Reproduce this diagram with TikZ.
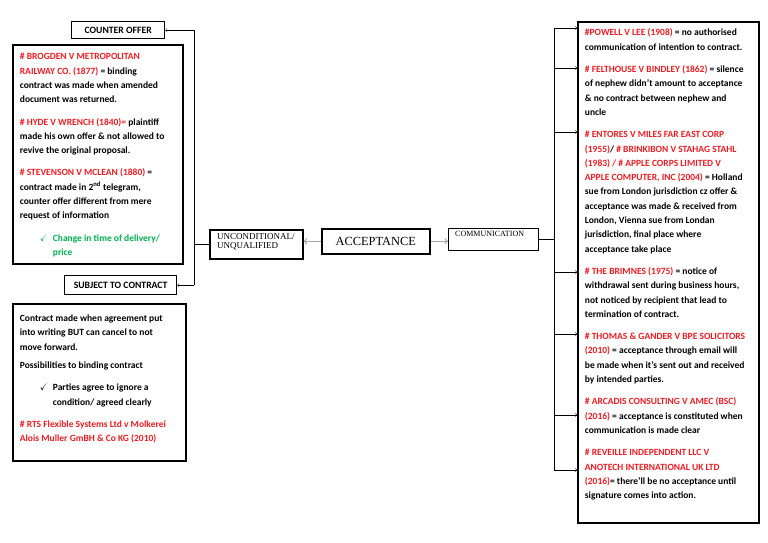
\documentclass[tikz,border=0pt]{standalone}
\usepackage{amssymb}
\usepackage{fontspec}
\setmainfont{Carlito}
\newfontfamily\timesfont{Liberation Serif}
\usetikzlibrary{positioning,calc}
\definecolor{caseRed}{RGB}{236,28,36}
\definecolor{tickGreen}{RGB}{0,176,80}
\newcommand{\casebox}[3]{\begin{minipage}[t][#2][t]{#1}\raggedright\setlength{\parskip}{8pt}#3\end{minipage}}
\newcommand{\case}[1]{\textcolor{caseRed}{#1}}

\begin{document}
\begin{tikzpicture}[x=1pt, y=-1pt,
            notes/.style={draw, line width=1.8pt, anchor=north west, inner sep=7pt, font=\bfseries\fontsize{9.5}{14.3}\selectfont},
            tag/.style={draw, line width=1.3pt, anchor=north west, inner sep=0pt, font=\bfseries\fontsize{9.7}{10}\selectfont},
            hub/.style={draw, line width=1.6pt, anchor=north west, inner sep=0pt},
            arrow/.style={->, thin},
            greyarrow/.style={->, draw=gray!70, line width=1.2pt}
        ]
            \useasboundingbox (0,0) rectangle (768,543);

            % left side
            \node[tag, minimum width=93pt, minimum height=17pt] (counter) at (71,21) {COUNTER OFFER};
            \node[notes] (offers) at (12,44) {\casebox{156pt}{205pt}{%
                \vspace*{1.5pt}
                \case{\# BROGDEN V METROPOLITAN}\\
                \case{RAILWAY CO. (1877)} = binding\\
                contract was made when amended\\
                document was returned.\par
                \case{\# HYDE V WRENCH (1840)=} plaintiff\\
                made his own offer \& not allowed to\\
                revive the original proposal.\par
                \case{\# STEVENSON V MCLEAN (1880)} =\\
                contract made in 2\textsuperscript{nd} telegram,\\
                counter offer different from mere\\
                request of information\par
                \color{tickGreen}\hspace*{20pt}\makebox[13pt][l]{$\checkmark$}Change in time of delivery/\\
                \hspace*{33pt}price}};
            \node[tag, minimum width=112pt, minimum height=19pt] (subject) at (64,275) {SUBJECT TO CONTRACT};
            \node[notes] (subjectnotes) at (12,303) {\casebox{159pt}{143pt}{%
                \vspace*{4pt}
                Contract made when agreement put\\
                into writing BUT can cancel to not\\
                move forward.\par\vspace{-4pt}
                Possibilities to binding contract\par
                \hspace*{20pt}\makebox[13pt][l]{$\checkmark$}Parties agree to ignore a\\
                \hspace*{33pt}condition/ agreed clearly\par
                \case{\# RTS Flexible Systems Ltd v Molkerei}\\
                \case{Alois Muller GmBH \& Co KG (2010)}}};

            % centre
            \node[hub, minimum width=93pt, minimum height=29pt] (uncond) at (209,229) {};
            \node[anchor=north west, inner sep=0pt, align=left, font=\timesfont\fontsize{9}{9}\selectfont] (uncondtext) at ([shift={(8,4)}]uncond.north west) {UNCONDITIONAL/\\UNQUALIFIED};
            \node[hub, minimum width=108pt, minimum height=25pt, font=\timesfont\fontsize{12.4}{14}\selectfont] (accept) at (321,228) {ACCEPTANCE};
            \node[hub, line width=1.3pt, minimum width=90pt, minimum height=22pt] (comm) at (448,228) {};
            \node[anchor=north west, inner sep=0pt, font=\timesfont\fontsize{8}{8}\selectfont] (commtext) at ([shift={(7,3)}]comm.north west) {COMMUNICATION};

            % right side
            \node[notes] (cases) at (577,21) {\casebox{167pt}{487pt}{%
                \case{\#POWELL V LEE (1908)} = no authorised\\
                communication of intention to contract.\par
                \case{\# FELTHOUSE V BINDLEY (1862)} = silence\\
                of nephew didn't amount to acceptance\\
                \& no contract between nephew and\\
                uncle\par
                \case{\# ENTORES V MILES FAR EAST CORP}\\
                \case{(1955)}/ \case{\# BRINKIBON V STAHAG STAHL}\\
                \case{(1983) / \# APPLE CORPS LIMITED V}\\
                \case{APPLE COMPUTER, INC (2004)} = Holland\\
                sue from London jurisdiction cz offer \&\\
                acceptance was made \& received from\\
                London, Vienna sue from Londan\\
                jurisdiction, final place where\\
                acceptance take place\par
                \case{\# THE BRIMNES (1975)} = notice of\\
                withdrawal sent during business hours,\\
                not noticed by recipient that lead to\\
                termination of contract.\par
                \case{\# THOMAS \& GANDER V BPE SOLICITORS}\\
                \case{(2010)} = acceptance through email will\\
                be made when it's sent out and received\\
                by intended parties.\par
                \case{\# ARCADIS CONSULTING V AMEC (BSC)}\\
                \case{(2016)} = acceptance is constituted when\\
                communication is made clear\par
                \case{\# REVEILLE INDEPENDENT LLC V}\\
                \case{ANOTECH INTERNATIONAL UK LTD}\\
                \case{(2016)}= there'll be no acceptance until\\
                signature comes into action.}};

            % connectors
            \draw[greyarrow] (accept.west) -- (uncond.east |- accept.west);
            \draw[greyarrow] (accept.east) -- (comm.west |- accept.east);

            \path (counter.east) ++(29,0) coordinate (ltop);
            \path (subject.east) ++(17,0) coordinate (lbot);
            \draw[thin] (uncond.west) -- (ltop |- uncond.west);
            \draw[thin] (ltop) -- (lbot);
            \draw[arrow] (ltop) -- (counter.east);
            \draw[arrow] (lbot) -- (subject.east);

            \coordinate (rtop) at (554,28);
            \coordinate (rbot) at (554,470);
            \draw[thin] (comm.east) -- (rtop |- comm.east);
            \draw[thin] (rtop) -- (rbot);
            \foreach \y [count=\i] in {28,68,132,272,334,415,470} {
                \coordinate (bus\i) at (554,\y);
                \coordinate (hit\i) at (cases.west |- bus\i);
                \draw[arrow] (bus\i) -- (hit\i);
            }
        \end{tikzpicture}
\end{document}
